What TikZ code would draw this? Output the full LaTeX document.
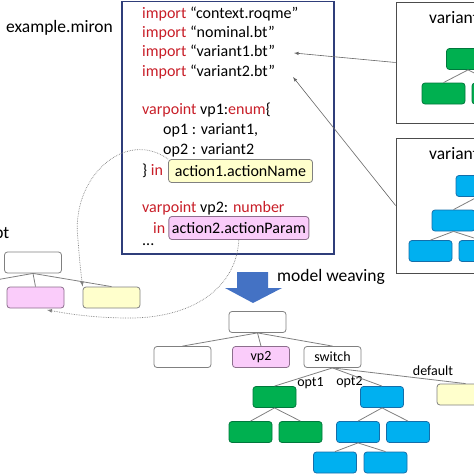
\documentclass[tikz,border=0pt]{standalone}
\usepackage{fontspec}
\setmainfont{Carlito}
\usetikzlibrary{arrows, positioning}

\definecolor{kwred}{RGB}{200,30,40}
\definecolor{codeframe}{RGB}{47,62,122}
\definecolor{nodegreen}{RGB}{0,176,80}
\definecolor{greenline}{RGB}{0,120,60}
\definecolor{nodeblue}{RGB}{0,176,240}
\definecolor{blueline}{RGB}{20,110,170}
\definecolor{nodepink}{RGB}{250,204,250}
\definecolor{pinkline}{RGB}{140,110,140}
\definecolor{nodeyellow}{RGB}{255,255,204}
\definecolor{weaveblue}{RGB}{68,114,196}

\newcommand{\kw}[1]{\textcolor{kwred}{#1}}

\begin{document}
\begin{tikzpicture}[x=1pt, y=-1pt, >=latex]
  \tikzstyle{tnode}=[draw=gray, rounded corners=3pt, line width=0.8pt, minimum width=57pt, minimum height=21pt, inner sep=0pt, fill=white, font=\fontsize{14}{14}\selectfont]
  \tikzstyle{pinknode}=[tnode, fill=nodepink, draw=pinkline]
  \tikzstyle{yellownode}=[tnode, fill=nodeyellow]
  \tikzstyle{gnode}=[tnode, minimum width=43pt, fill=nodegreen, draw=greenline]
  \tikzstyle{bnode}=[tnode, minimum width=43pt, fill=nodeblue, draw=blueline]
  \tikzstyle{vbox}=[draw=black!70, line width=0.8pt, inner sep=0pt]
  \tikzstyle{code}=[anchor=west, inner sep=0pt, font=\fontsize{16}{16}\selectfont]
  \tikzstyle{title}=[inner sep=0pt, font=\fontsize{17.5}{17.5}\selectfont]
  \tikzstyle{caption}=[inner sep=0pt, font=\fontsize{14}{14}\selectfont]
  \tikzstyle{branch}=[draw=gray, line width=0.8pt]
  \tikzstyle{link}=[->, draw=black!60, line width=0.6pt]
  \tikzstyle{trace}=[->, densely dotted, draw=black!50, line width=0.7pt]

  \useasboundingbox (0,0) rectangle (474,474);
  \clip (0,0) rectangle (474,474);

  % the miron file
  \node[title, anchor=west] (mirontitle) at (6,28) {example.miron};
  \draw[codeframe, line width=1.8pt] (122,1.5) rectangle (334,254);
  \node[code] (imp1) at (142,14) {\kw{import} “context.roqme”};
  \node[code] (imp2) at (142,33) {\kw{import} “nominal.bt”};
  \node[code] (imp3) at (142,52) {\kw{import} “variant1.bt”};
  \node[code] (imp4) at (142,72) {\kw{import} “variant2.bt”};
  \node[code] (vpone) at (142,110) {\kw{varpoint} vp1:\kw{enum}\{};
  \node[code] (optone) at (163,130) {op1 : variant1,};
  \node[code] (opttwo) at (163,150) {op2 : variant2};
  \node[code] (vpclose) at (142,171) {\} \kw{in}};
  \node[yellownode, font=\fontsize{16}{16}\selectfont, minimum width=144pt, minimum height=23pt, right=5pt of vpclose] (aonebox) {action1.actionName};
  \node[code] (vptwo) at (142,208) {\kw{varpoint} vp2: \kw{number}};
  \node[code] (vpin) at (153,228) {\kw{in}};
  \node[pinknode, font=\fontsize{16}{16}\selectfont, minimum width=140pt, minimum height=23pt, right=3pt of vpin] (atwobox) {action2.actionParam};
  \node[code] (dots) at (142,245) {...};

  % variant trees
  \node[vbox, minimum width=144pt, minimum height=121pt] (v1box) at (468,62.5) {};
  \node[title] (v1title) at (468,17) {variant1.bt};
  \node[gnode] (v1root) at (468,59) {};
  \node[gnode] (v1a) at (443.5,93.5) {};
  \node[gnode] (v1b) at (493.5,93.5) {};
  \node[vbox, minimum width=144pt, minimum height=135pt] (v2box) at (468,205.5) {};
  \node[title] (v2title) at (468,153) {variant2.bt};
  \node[bnode] (v2root) at (477.5,186) {};
  \node[bnode] (v2mid) at (453.5,220.5) {};
  \node[bnode] (v2a) at (430.5,251) {};
  \node[bnode] (v2b) at (480.5,251) {};

  \coordinate (tipone) at (294,53);
  \coordinate (tiptwo) at (293,77);
  \draw[link] (v1box.west) -- (tipone);
  \draw[link] (v2box.west) -- (tiptwo);

  % nominal tree
  \node[title, anchor=east] (nomtitle) at (9.5,232) {nominal.bt};
  \node[tnode] (nomroot) at (33,262.5) {};
  \node[pinknode] (nomvp2) at (35.5,297.5) {};
  \node[yellownode] (nomvp1) at (111.5,297.5) {};
  \coordinate (nomhidden) at (-44,287);
  \coordinate (pinktip) at (47,310);

  % woven tree
  \fill[weaveblue] (237,272) -- (268,272) -- (268,288) -- (282,288) -- (253,303) -- (225,288) -- (237,288) -- cycle;
  \node[title, anchor=west] (weavetitle) at (277,277) {model weaving};
  \node[tnode] (wroot) at (257.5,322) {};
  \node[tnode] (wleft) at (182.5,357) {};
  \node[pinknode] (wvp2) at (261,357) {vp2};
  \node[tnode] (wswitch) at (332.5,357) {switch};
  \node[gnode] (wopt1) at (274.5,397) {};
  \node[gnode] (wopt1a) at (250.5,432) {};
  \node[gnode] (wopt1b) at (300.5,432) {};
  \node[bnode] (wopt2) at (382,397) {};
  \node[bnode] (wopt2a) at (358,432) {};
  \node[bnode] (wopt2b) at (408,432) {};
  \node[bnode] (wopt2c) at (335,462.5) {};
  \node[bnode] (wopt2d) at (385.5,462.5) {};
  \node[yellownode] (wdefault) at (465.5,394.5) {};
  \node[caption] (lopt1) at (310.5,383) {opt1};
  \node[caption] (lopt2) at (349.5,382) {opt2};
  \node[caption] (ldefault) at (433,371) {default};

  \foreach \a/\b in {v1root/v1a, v1root/v1b, v2root/v2mid, v2mid/v2a, v2mid/v2b,
                     nomroot/nomvp2, nomroot/nomvp1,
                     wroot/wleft, wroot/wvp2, wroot/wswitch,
                     wswitch/wopt1, wswitch/wopt2, wswitch/wdefault,
                     wopt1/wopt1a, wopt1/wopt1b, wopt2/wopt2a, wopt2/wopt2b,
                     wopt2a/wopt2c, wopt2a/wopt2d}
    \draw[branch] (\a.south) -- (\b.north);
  \draw[branch] (nomroot.south) -- (nomhidden);

  % traces of the variation points
  \draw[trace] (aonebox.north west) .. controls (125,128) and (70,178) .. (78,240) .. controls (80,265) .. (nomvp1.north west);
  \draw[trace] (atwobox.south) .. controls (236,290) and (190,318) .. (130,318) .. controls (90,318) and (65,313) .. (pinktip);
\end{tikzpicture}
\end{document}
